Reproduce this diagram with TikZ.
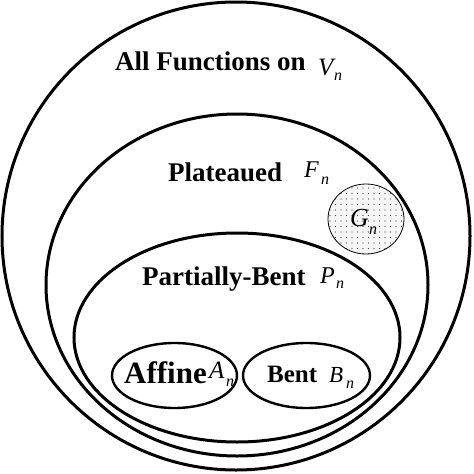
\documentclass[tikz,border=0pt]{standalone}
\usepackage{fontspec}
\setmainfont{Liberation Serif}
\usetikzlibrary{patterns.meta}
\tikzset{
  ring/.style={line width=3pt},
  small ring/.style={line width=2.4pt},
  lbl/.style={inner sep=0pt, anchor=base west, font=\bfseries\fontsize{#1}{#1}\selectfont},
  sym/.style={inner sep=0pt, anchor=base west, font=\itshape\fontsize{#1}{#1}\selectfont},
  subn/.style={inner sep=0pt, anchor=base west, font=\itshape\fontsize{16}{16}\selectfont},
}
\begin{document}
\begin{tikzpicture}[x=1pt,y=-1pt]
\useasboundingbox (0,0) rectangle (474,474);
% sets
\draw[ring] (236,236) circle[radius=234];
\draw[ring] (237,285) ellipse[x radius=191, y radius=171];
\draw[ring] (237,337.5) ellipse[x radius=163, y radius=104.5];
\draw[small ring] (174.5,375.5) ellipse[x radius=62.5, y radius=32.5];
\draw[small ring] (306.5,375.5) ellipse[x radius=63.5, y radius=32.5];
\fill[gray!7] (366,219) ellipse[x radius=38, y radius=35];
\fill[pattern={Dots[distance=5.5pt, radius=0.6pt]}, pattern color=black!75] (366,219) ellipse[x radius=38, y radius=35];
\draw[line width=0.8pt] (366,219) ellipse[x radius=38, y radius=35];
% labels
\node[lbl=27] (all) at (115,70) {All Functions on};
\node[sym=25] (V) at (318,75) {V};
\node[subn] (Vn) at (334,80) {n};
\node[lbl=27] (plat) at (168,181) {Plateaued};
\node[sym=24] (F) at (304,177) {F};
\node[subn] (Fn) at (321,184) {n};
\node[sym=26] (G) at (350,226) {G};
\node[subn] (Gn) at (369,234) {n};
\node[lbl=27] (part) at (142,285) {Partially-Bent};
\node[sym=24] (P) at (320,283) {P};
\node[subn] (Pn) at (336,288) {n};
\node[lbl=31] (aff) at (124,383) {Affine};
\node[sym=25] (A) at (209,378) {A};
\node[subn] (An) at (226,386) {n};
\node[lbl=25] (bent) at (267,382) {Bent};
\node[sym=23] (B) at (329,382) {B};
\node[subn] (Bn) at (346,388) {n};
\end{tikzpicture}
\end{document}
